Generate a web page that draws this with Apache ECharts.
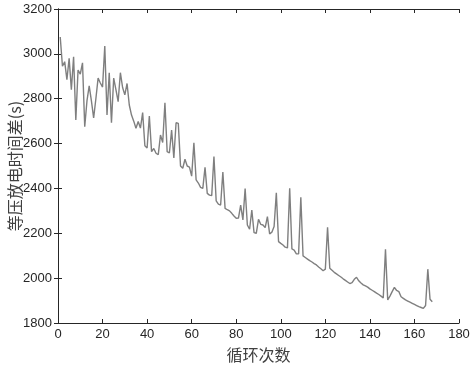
<!DOCTYPE html>
<html>
<head>
<meta charset="utf-8">
<script src="https://cdn.jsdelivr.net/npm/echarts@6/dist/echarts.min.js"></script>
<style>
  html, body { margin: 0; padding: 0; background: #fff; }
  #chart { width: 474px; height: 366px; }
</style>
</head>
<body>
<div id="chart"></div>
<script>
// discharge time difference per cycle, cycles start at 1
const timeDiff = [
  3075, 2945, 2965, 2885, 2980, 2840, 2987, 2705, 2928, 2910,
  2960, 2675, 2790, 2857, 2790, 2714, 2800, 2892, 2870, 2852,
  3035, 2727, 2916, 2693, 2892, 2840, 2787, 2916, 2850, 2817,
  2868, 2772, 2727, 2700, 2668, 2698, 2669, 2738, 2590, 2580,
  2723, 2564, 2578, 2557, 2550, 2638, 2605, 2782, 2564, 2558,
  2660, 2536, 2693, 2690, 2500, 2490, 2530, 2500, 2495, 2455,
  2604, 2438, 2424, 2405, 2400, 2494, 2378, 2370, 2368, 2542,
  2345, 2330, 2326, 2473, 2311, 2305, 2300, 2289, 2277, 2267,
  2268, 2326, 2260, 2400, 2237, 2218, 2304, 2203, 2200, 2262,
  2240, 2237, 2225, 2274, 2197, 2205, 2230, 2381, 2163, 2155,
  2148, 2138, 2135, 2401, 2130, 2125, 2108, 2108, 2360, 2099,
  2092, 2085, 2078, 2072, 2065, 2059, 2050, 2042, 2033, 2040,
  2227, 2044, 2035, 2026, 2019, 2012, 2005, 1997, 1990, 1983,
  1976, 1980, 1995, 2004, 1988, 1978, 1970, 1965, 1960, 1952,
  1946, 1940, 1933, 1927, 1920, 1912, 2129, 1903, 1920, 1940,
  1959, 1945, 1940, 1917, 1910, 1903, 1898, 1893, 1888, 1883,
  1878, 1873, 1869, 1865, 1878, 2040, 1906, 1895
];
const cycleNums = timeDiff.map((_, i) => i + 1);

const xName = '循环次数';
const yName = '等压放电时间差(s)';

const chart = echarts.init(document.getElementById('chart'));

const textColor = '#262626';
const lineStyle = { color: '#262626', width: 1 };
const tickStyle = { show: true, inside: true, length: 4, lineStyle: { color: '#262626' } };
const plainNum = v => String(v);

const option = {
  animation: false,
  grid: { left: 58, right: 15, top: 9, bottom: 43, containLabel: false, outerBoundsMode: 'none' },
  xAxis: [
    {
      type: 'value', min: 0, max: 180, interval: 20,
      name: xName, nameLocation: 'middle', nameGap: 24, nameMoveOverlap: false,
      nameTextStyle: { fontSize: 16, color: '#404040', fontFamily: 'Noto Sans CJK SC' },
      axisLine: { lineStyle },
      axisTick: tickStyle,
      axisLabel: { color: textColor, fontSize: 13, margin: 5, fontFamily: 'Liberation Sans', formatter: plainNum },
      splitLine: { show: false }
    },
    {
      type: 'value', min: 0, max: 180, interval: 20, position: 'top',
      axisLine: { show: true, lineStyle },
      axisTick: tickStyle,
      axisLabel: { show: false },
      splitLine: { show: false }
    }
  ],
  yAxis: [
    {
      type: 'value', min: 1800, max: 3200, interval: 200,
      name: yName, nameLocation: 'middle', nameGap: 35, nameMoveOverlap: false,
      nameTextStyle: { fontSize: 16, color: '#404040', fontFamily: 'Noto Sans CJK SC' },
      axisLine: { show: true, lineStyle },
      axisTick: tickStyle,
      axisLabel: { color: textColor, fontSize: 13, margin: 6, fontFamily: 'Liberation Sans', formatter: plainNum },
      splitLine: { show: false }
    },
    {
      type: 'value', min: 1800, max: 3200, interval: 200, position: 'right',
      axisLine: { show: true, lineStyle },
      axisTick: tickStyle,
      axisLabel: { show: false },
      splitLine: { show: false }
    }
  ],
  series: [
    {
      type: 'line',
      xAxisIndex: 0,
      yAxisIndex: 0,
      data: cycleNums.map((c, i) => [c, timeDiff[i]]),
      showSymbol: false,
      lineStyle: { color: '#7f7f7f', width: 1.4 }
    }
  ]
};

chart.setOption(option);
</script>
</body>
</html>
